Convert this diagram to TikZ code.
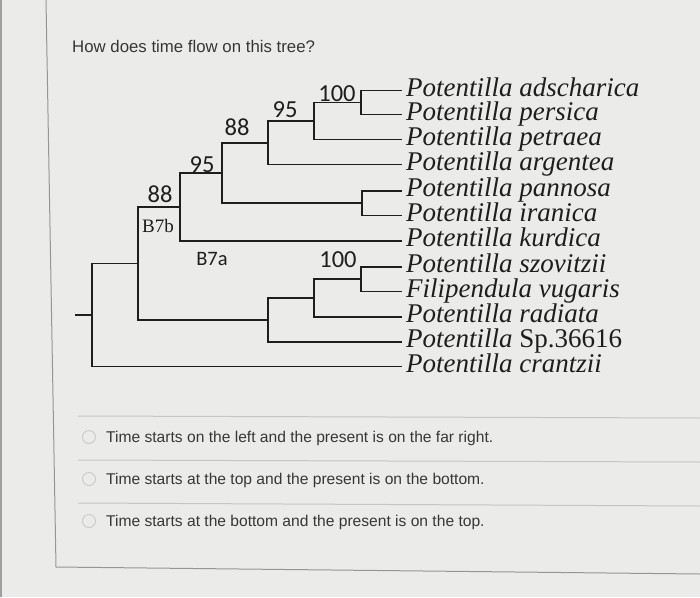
\documentclass[tikz,border=0pt]{standalone}
\usepackage{fontspec}
\setmainfont{Liberation Serif}
\newfontfamily\calib{Carlito}
\newfontfamily\uisans{Liberation Sans}
\definecolor{paper}{RGB}{235,235,233}
\definecolor{ink}{RGB}{30,30,30}
\definecolor{uitext}{RGB}{55,55,55}
\definecolor{rulegray}{RGB}{198,198,196}
\definecolor{framegray}{RGB}{150,150,150}

\begin{document}
\begin{tikzpicture}[x=1pt,y=-1pt,
  branch/.style={draw=ink,line width=1.6pt},
  taxon/.style={anchor=west,inner sep=4pt,text height=11pt,text depth=0pt,
    font=\fontsize{27}{27}\selectfont\itshape,text=ink},
  support/.style={inner sep=0pt,font=\calib\fontsize{24.5}{24.5}\selectfont,text=ink},
  radio/.style={circle,draw=gray!40,line width=1pt,minimum size=13pt,inner sep=0pt},
  choice/.style={anchor=base west,inner sep=0pt,font=\uisans\fontsize{15.6}{16}\selectfont,text=uitext}]

      \fill[paper] (0,0) rectangle (700,597);
      \useasboundingbox (0,0) rectangle (700,597);
      \fill[gray!75] (0,0) rectangle (2,597);
      \draw[framegray,line width=1pt] (46,0) -- (56,567) -- (700,574);

      \node[anchor=base west,inner sep=0pt,font=\uisans\fontsize{16.8}{17}\selectfont,text=uitext]
        (question) at (72,52) {How does time flow on this tree?};

      % tips
      \node[taxon] (adsch) at (402,90.5) {Potentilla adscharica};
      \node[taxon] (persi) at (402,114.5) {Potentilla persica};
      \node[taxon] (petra) at (402,139.5) {Potentilla petraea};
      \node[taxon] (argen) at (402,164.5) {Potentilla argentea};
      \node[taxon] (panno) at (402,191) {Potentilla pannosa};
      \node[taxon] (irani) at (402,215.5) {Potentilla iranica};
      \node[taxon] (kurdi) at (402,241) {Potentilla kurdica};
      \node[taxon] (szovi) at (402,267) {Potentilla szovitzii};
      \node[taxon] (filip) at (402,291.5) {Filipendula vugaris};
      \node[taxon] (radia) at (402,317) {Potentilla radiata};
      \node[taxon] (sp) at (402,342) {Potentilla \upshape Sp.36616};
      \node[taxon] (crant) at (402,366.5) {Potentilla crantzii};

      % internal nodes
      \coordinate (a) at (361,102.5);
      \coordinate (b) at (314,121);
      \coordinate (c) at (268,142.75);
      \coordinate (d) at (362,203.25);
      \coordinate (e) at (222,173);
      \coordinate (f) at (180,207);
      \coordinate (g) at (361,279.25);
      \coordinate (h) at (314,298);
      \coordinate (i) at (268,320);
      \coordinate (j) at (138,263.5);
      \coordinate (k) at (92,315);
      \coordinate (stem) at (75,315);

      \draw[branch] (a) |- (adsch.west);
      \draw[branch] (a) |- (persi.west);
      \draw[branch] (b) |- (a);
      \draw[branch] (b) |- (petra.west);
      \draw[branch] (c) |- (b);
      \draw[branch] (c) |- (argen.west);
      \draw[branch] (d) |- (panno.west);
      \draw[branch] (d) |- (irani.west);
      \draw[branch] (e) |- (c);
      \draw[branch] (e) |- (d);
      \draw[branch] (f) |- (e);
      \draw[branch] (f) |- (kurdi.west);
      \draw[branch] (g) |- (szovi.west);
      \draw[branch] (g) |- (filip.west);
      \draw[branch] (h) |- (g);
      \draw[branch] (h) |- (radia.west);
      \draw[branch] (i) |- (h);
      \draw[branch] (i) |- (sp.west);
      \draw[branch] (j) |- (f);
      \draw[branch] (j) |- (i);
      \draw[branch] (k) |- (j);
      \draw[branch] (k) |- (crant.west);
      \draw[branch] (stem) -- (k);

      % support values
      \node[support] (sa) at (337,93.5) {100};
      \node[support] (sb) at (285,109.5) {95};
      \node[support] (sc) at (237,127.5) {88};
      \node[support] (se) at (202,165) {95};
      \node[support] (sj) at (160,194.5) {88};
      \node[support] (sg) at (338,259.5) {100};
      \node[inner sep=0pt,font=\fontsize{19}{19}\selectfont,text=ink] (b7b) at (158,226) {B7b};
      \node[inner sep=0pt,font=\calib\fontsize{20.5}{20.5}\selectfont,text=ink] (b7a) at (212,259) {B7a};

      % answers
      \draw[rulegray,line width=1pt] (78,416) -- (700,418);
      \draw[rulegray,line width=1pt] (78,460) -- (700,462);
      \draw[rulegray,line width=1pt] (78,503) -- (700,506);

      \node[radio] (r1) at (89,437) {};
      \node[choice] (c1) at (106,442.5) {Time starts on the left and the present is on the far right.};
      \node[radio] (r2) at (89,479) {};
      \node[choice] (c2) at (106,484.5) {Time starts at the top and the present is on the bottom.};
      \node[radio] (r3) at (89,521) {};
      \node[choice] (c3) at (106,526.5) {Time starts at the bottom and the present is on the top.};

    \end{tikzpicture}
\end{document}
